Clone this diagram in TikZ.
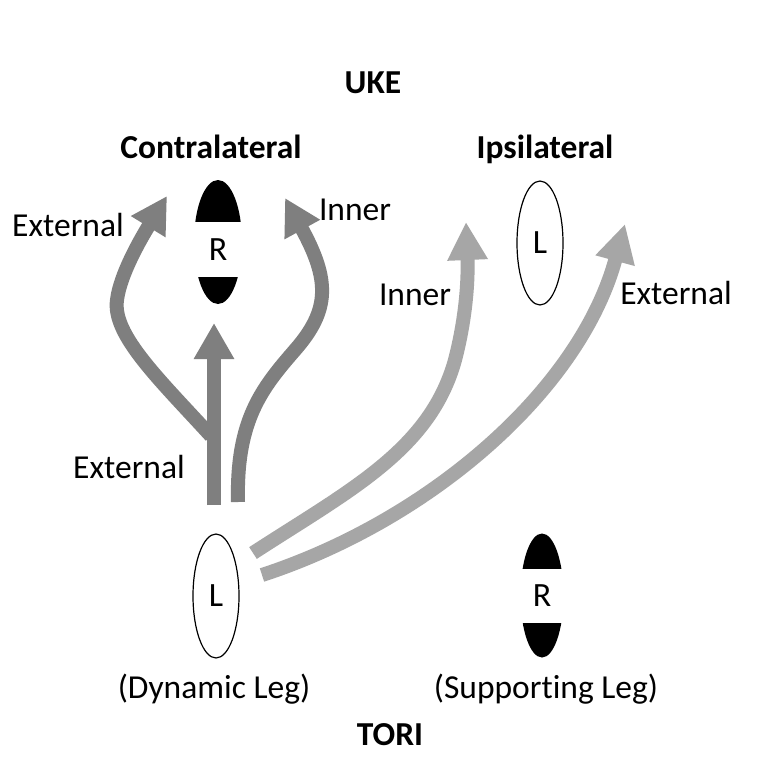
\documentclass[tikz,border=0pt]{standalone}
\usepackage{fontspec}
\setmainfont{Carlito}[Ligatures=NoCommon]
\usetikzlibrary{arrows.meta,shapes.geometric}
\definecolor{darkg}{RGB}{127,127,127}
\definecolor{lightg}{RGB}{166,166,166}
\begin{document}
\begin{tikzpicture}[x=1pt,y=-1pt,
  lbl/.style={font=\fontsize{33.5}{38}\selectfont, anchor=base, inner sep=0},
  hdr/.style={font=\fontsize{33.5}{38}\selectfont\bfseries, anchor=base, inner sep=0},
  legopen/.style={ellipse, draw=black, line width=1.2pt, minimum width=46pt, minimum height=124pt, inner sep=0, font=\fontsize{34}{36}\selectfont},
  legfill/.style={ellipse, fill=black, draw=none, minimum width=48pt, minimum height=124pt, inner sep=0},
  band/.style={fill=white, minimum width=62pt, inner sep=0, font=\fontsize{34}{36}\selectfont},
  darkarrow/.style={draw=darkg, line width=14pt, -{Triangle[length=36pt,width=38pt]}},
  lightarrow/.style={draw=lightg, line width=14pt, -{Triangle[length=38pt,width=38pt]}}
]
\useasboundingbox (0,0) rectangle (761,784);
\fill[white] (0,0) rectangle (761,784);

% legs
\node[legfill] (cR) at (218,242) {};
\node[band, minimum height=55pt] (cRb) at (218,249.5) {R};
\node[legopen] (iL) at (540,243) {L};
\node[legopen] (dL) at (216,596) {L};
\node[legfill, minimum width=43pt] (sR) at (542,595.5) {};
\node[band, minimum height=54pt] (sRb) at (542,596) {R};

% arrow end points
\coordinate (s1) at (214,505);
\coordinate (t1) at (214,323);
\coordinate (s2) at (211,436);
\coordinate (t2) at (167,196);
\coordinate (s3) at (238,502);
\coordinate (t3) at (285,198);
\coordinate (s4) at (253,553);
\coordinate (t4) at (466,222);
\coordinate (s5) at (262,575);
\coordinate (t5) at (625,224);

% contralateral (dark) arrows
\draw[darkarrow] (s2) .. controls (160,380) and (112,335) .. (117,300) .. controls (120,275) and (140,240) .. (t2);
\draw[darkarrow] (s3) .. controls (236,420) and (262,388) .. (295,350) .. controls (330,310) and (330,280) .. (t3);
\draw[darkarrow] (s1) -- (t1);

% ipsilateral (light) arrows
\draw[lightarrow] (s4) .. controls (350,490) and (430,450) .. (455,360) .. controls (468,310) and (468,270) .. (t4);
\draw[lightarrow] (s5) .. controls (430,520) and (580,390) .. (t5);

% labels
\node[hdr] (uke) at (373,93) {UKE};
\node[hdr] (contra) at (211,158) {Contralateral};
\node[hdr] (ipsi) at (545,158) {Ipsilateral};
\node[lbl] (ext1) at (68,236) {External};
\node[lbl] (inn1) at (355,220) {Inner};
\node[lbl] (inn2) at (415,305) {Inner};
\node[lbl] (ext2) at (676,304) {External};
\node[lbl] (ext3) at (129,478) {External};
\node[lbl] (dyn) at (214,698) {(Dynamic Leg)};
\node[lbl] (sup) at (546,698) {(Supporting Leg)};
\node[hdr] (tori) at (390,745) {TORI};
\end{tikzpicture}
\end{document}
